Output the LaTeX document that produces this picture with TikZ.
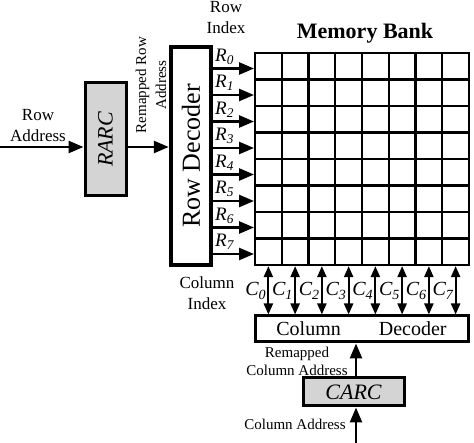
\documentclass[tikz,border=0pt]{standalone}
\usepackage{fontspec}
\setmainfont{Liberation Serif}
\usetikzlibrary{arrows.meta}
\begin{document}
\begin{tikzpicture}[x=1pt,y=-1pt,
  arr/.style={line width=2.6pt,-{Triangle[length=15pt,width=12pt]}},
  darr/.style={line width=2.2pt,{Triangle[length=11pt,width=9pt]}-{Triangle[length=11pt,width=9pt]}},
  grayblk/.style={draw,line width=3pt,fill=black!17,inner sep=0},
  whiteblk/.style={draw,line width=3pt,fill=white,inner sep=0},
  lbl/.style={font=\fontsize{17}{21}\selectfont,align=center,inner sep=0},
  slbl/.style={font=\fontsize{15}{18}\selectfont,align=center,inner sep=0},
  ridx/.style={font=\fontsize{19}{22}\selectfont\itshape,inner sep=0},
  cidx/.style={font=\fontsize{20}{24}\selectfont\itshape,inner sep=0},
  gridline/.style={line width=2.2pt}]
\useasboundingbox (0,0) rectangle (474,443);
\fill[white] (0,0) rectangle (474,443);

% memory bank
\node[draw,gridline,minimum width=214pt,minimum height=212pt,inner sep=0] (bank) at (362,159) {};
\foreach \k in {1,...,7} {
  \draw[gridline] ({255+26.75*\k},53) -- ({255+26.75*\k},265);
  \draw[gridline] (255,{53+26.5*\k}) -- (469,{53+26.5*\k});
}
\node[font=\fontsize{22}{26}\selectfont\bfseries,inner sep=0] (mbtitle) at (365,33) {Memory Bank};

% row decoder
\node[whiteblk,line width=4.5pt,minimum width=40pt,minimum height=218pt] (rd) at (191,156) {};
\node[rotate=90,font=\fontsize{26}{30}\selectfont,inner sep=0] (rdtext) at (rd.center) {Row Decoder};

% RARC
\node[grayblk,minimum width=41pt,minimum height=113pt] (rarc) at (105.5,139.5) {};
\node[rotate=90,font=\fontsize{22}{26}\selectfont\itshape,inner sep=0] (rarctext) at (rarc.center) {RARC};

\coordinate (rain) at (0,147);
\draw[arr] (rain) -- (rain -| rarc.west);
\draw[arr] (rain -| rarc.east) -- (rain -| rd.west);
\node[lbl] (ralbl) at (38,126) {Row\\Address};
\node[slbl,rotate=90,font=\fontsize{15}{20}\selectfont] (rralbl) at (151,85) {Remapped Row\\Address};
\node[lbl] (rilbl) at (226,18) {Row\\Index};

% row lines
\foreach \i in {0,...,7} {
  \coordinate (r\i) at (254,{53+26.5*\i+15.5});
  \draw[arr] (rd.east |- r\i) -- (r\i);
  \node[ridx,anchor=base west] (rl\i) at (215,{53+26.5*\i+8.5}) {R\textsubscript{\i}};
}

% column decoder
\node[whiteblk,minimum width=213pt,minimum height=26pt] (cd) at (361.5,329) {};
\node[font=\fontsize{20}{24}\selectfont,inner sep=0] (cdtext) at (cd.center) {Column\hspace{38pt}Decoder};
\node[lbl] (cilbl) at (207,293) {Column\\Index};

\foreach \j in {0,...,7} {
  \coordinate (c\j) at ({255+26.75*\j+13.375},265);
  \draw[darr] (bank.south -| c\j) -- (cd.north -| c\j);
  \node[cidx,anchor=base east] (cl\j) at ({255+26.75*\j+13.375-2},296) {C\textsubscript{\j}};
}

% CARC
\node[grayblk,minimum width=101pt,minimum height=28pt] (carc) at (353.5,392) {};
\node[font=\fontsize{22}{26}\selectfont\itshape,inner sep=0] (carctext) at (carc.center) {CARC};
\coordinate (cain) at (356,443);
\draw[arr] (cain) -- (cain |- carc.south);
\draw[arr] (cain |- carc.north) -- (cain |- cd.south);
\node[slbl] (rcalbl) at (297,361) {Remapped\\Column Address};
\node[slbl] (calbl) at (295,424) {Column Address};
\end{tikzpicture}
\end{document}
